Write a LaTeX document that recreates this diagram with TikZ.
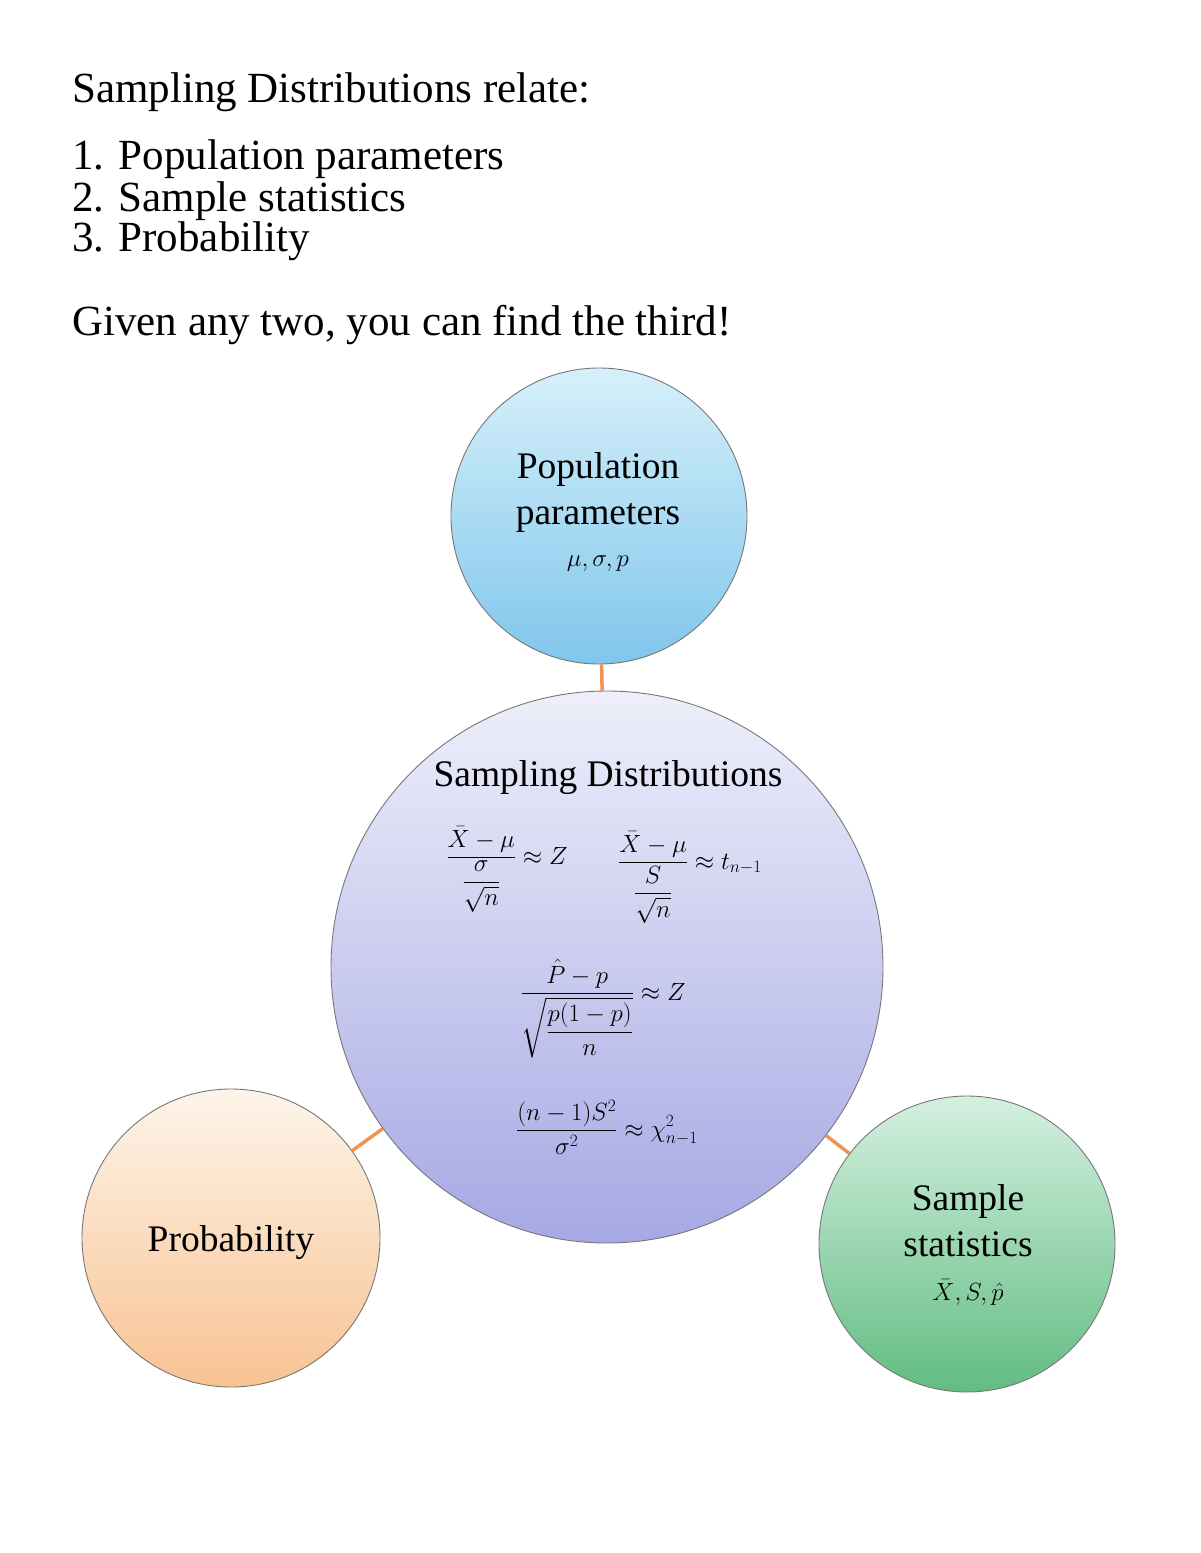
\documentclass[tikz,border=0pt]{standalone}
\usepackage{amsmath}
\usepackage{fontspec}
\setmainfont{Liberation Serif}
\definecolor{popTop}{HTML}{D6F0FA}
\definecolor{popBot}{HTML}{80C6EC}
\definecolor{sdTop}{HTML}{EEEFFA}
\definecolor{sdBot}{HTML}{A6A8E4}
\definecolor{prTop}{HTML}{FDF5EA}
\definecolor{prBot}{HTML}{F8C292}
\definecolor{stTop}{HTML}{D4F0E0}
\definecolor{stBot}{HTML}{62BC82}
\definecolor{linkorange}{HTML}{F2915A}
\definecolor{rimgray}{HTML}{777777}
\begin{document}
\begin{tikzpicture}[x=1pt,y=-1pt,
  bubble/.style={circle, draw=rimgray, line width=0.9pt, inner sep=0pt},
  link/.style={draw=linkorange, line width=3.5pt},
  headtext/.style={anchor=base west, inner sep=0pt, font=\fontsize{43}{43}\selectfont},
  bubtext/.style={anchor=base, inner sep=0pt, font=\fontsize{37.5}{37.5}\selectfont},
  eqtext/.style={anchor=base, inner sep=0pt, font=\fontsize{25}{28}\selectfont}]
\fill[white] (0,0) rectangle (1200,1553);
\useasboundingbox (0,0) rectangle (1200,1553);

% header text
\node[headtext] (h1) at (72,102) {Sampling Distributions relate:};
\node[headtext] (h2) at (72,169) {1. Population parameters};
\node[headtext] (h3) at (72,211) {2. Sample statistics};
\node[headtext] (h4) at (72,251) {3. Probability};
\node[headtext] (h5) at (72,335) {Given any two, you can find the third!};

% bubbles
\node[bubble, minimum size=296pt, top color=popTop, bottom color=popBot] (pop) at (599,516) {};
\node[bubble, minimum size=552pt, top color=sdTop, bottom color=sdBot] (sd) at (607,967) {};
\node[bubble, minimum size=298pt, top color=prTop, bottom color=prBot] (prob) at (231,1238) {};
\node[bubble, minimum size=296pt, top color=stTop, bottom color=stBot] (stat) at (967,1244) {};

% connectors
\draw[link] (pop) -- (sd);
\draw[link] (sd) -- (prob);
\draw[link] (sd) -- (stat);

% bubble texts
\node[bubtext] (popA) at (598,478) {Population};
\node[bubtext] (popB) at (598,524) {parameters};
\node[eqtext] (popC) at (598,566) {$\mu,\sigma,p$};

\node[bubtext] (sdA) at (608,786) {Sampling Distributions};
\node[eqtext] (eqA) at (507,864) {$\displaystyle\frac{\bar{X}-\mu}{\dfrac{\sigma}{\sqrt{n}}}\approx Z$};
\node[eqtext] (eqB) at (690,869) {$\displaystyle\frac{\bar{X}-\mu}{\dfrac{S}{\sqrt{n}}}\approx t_{n-1}$};
\node[eqtext] (eqC) at (603,1000) {$\displaystyle\frac{\hat{P}-p}{\sqrt{\dfrac{p(1-p)}{n}}}\approx Z$};
\node[eqtext] (eqD) at (607,1137) {$\displaystyle\frac{(n-1)S^2}{\sigma^2}\approx \chi^2_{n-1}$};

\node[bubtext] (prA) at (231,1251) {Probability};

\node[bubtext] (stA) at (968,1210) {Sample};
\node[bubtext] (stB) at (968,1256) {statistics};
\node[eqtext] (stC) at (968,1300) {$\bar{X},S,\hat{p}$};
\end{tikzpicture}
\end{document}
